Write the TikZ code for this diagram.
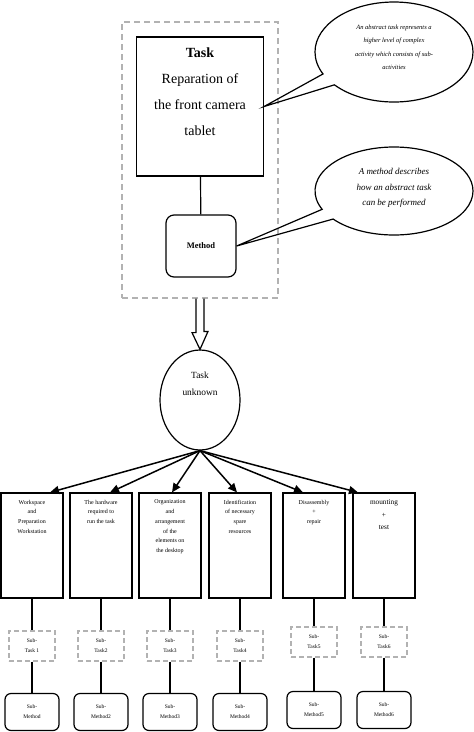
\documentclass[tikz,border=0pt]{standalone}
\usepackage{fontspec}
\setmainfont{Liberation Serif}
\usetikzlibrary{arrows.meta,shapes.geometric,shapes.callouts}
\begin{document}
\begin{tikzpicture}[x=1pt,y=-1pt,
    line width=1.2pt,
    box/.style={draw,minimum width=62pt,minimum height=105pt,inner sep=0pt},
    subtask/.style={draw=gray!60,dash pattern=on 5pt off 3pt,minimum width=46pt,minimum height=30pt,
        align=center,inner sep=0pt,font=\fontsize{5.5}{10}\selectfont},
    submethod/.style={draw,rounded corners=6pt,minimum width=54pt,minimum height=37pt,
        align=center,inner sep=0pt,font=\fontsize{5.5}{10}\selectfont},
    bubble/.style={ellipse callout,draw,align=center,inner sep=0pt,minimum width=158pt},
    arr/.style={-{Triangle[length=9pt,width=8pt]},line width=1.5pt}]
\useasboundingbox (0,0) rectangle (474,732);
\node[draw=gray!60,dash pattern=on 6pt off 4pt,minimum width=156pt,minimum height=276pt] (frame) at (200,160) {};
\node[draw,minimum width=127pt,minimum height=139pt,align=center,inner sep=0pt,
    font=\fontsize{14}{26}\selectfont,text depth=30pt] (task) at (200,106.5)
    {\textbf{Task}\\Reparation of\\the front camera\\tablet};
\node[draw,rounded corners=8pt,minimum width=70pt,minimum height=62pt,
    font=\bfseries\fontsize{8.5}{10}\selectfont] (method) at (201,246) {Method};
\draw (task) -- (method);
\node[bubble,minimum height=100pt,font=\itshape\fontsize{6.5}{13.5}\selectfont,text depth=10pt,
    callout absolute pointer={(task.east)}] (note1) at (394,52)
    {An abstract task represents a\\higher level of complex\\activity which consists of sub-\\activities};
\node[bubble,minimum height=88pt,font=\itshape\fontsize{9}{15.5}\selectfont,text depth=8pt,
    callout absolute pointer={(method.east)}] (note2) at (394,191)
    {A method describes\\how an abstract task\\can be performed};
\node[draw,ellipse,minimum width=80pt,minimum height=100pt,inner sep=0pt,align=center,
    font=\fontsize{9.4}{17}\selectfont,text depth=32pt] (unk) at (200,400) {Task\\unknown};
% hollow double arrow
\draw ([xshift=-4pt]frame.south) -- ++(0,34) -- ++(-4,0) -- (unk.north) -- ++(8,-18) -- ++(-4,0)
    -- ([xshift=4pt]frame.south);
\foreach \x/\dx/\ys/\ym/\fs/\ls/\txt [count=\i] in {
    32/18/646/712/6/9.7/{Workspace\\and\\Preparation\\Workstation},
    101/9/646/712/6/9.7/{The hardware\\required to\\run the task},
    170/2/646/712/6/9.7/{Organization\\and\\arrangement\\of the\\elements on\\the desktop},
    240/-3/646/712/6/9.7/{Identification\\of necessary\\spare\\resources},
    314/-11/642/710/6/9.7/{Disassembly\\+\\repair},
    384/-26/642/710/7.3/12.5/{mounting\\+\\test}} {
    \node[box] (b\i) at (\x,545.5) {};
    \node[anchor=north,align=center,inner sep=0pt,font=\fontsize{\fs}{\ls}\selectfont]
        (t\i) at ([yshift=-7pt]b\i.north) {\txt};
    \node[subtask] (s\i) at (\x,\ys) {Sub-\\\ifnum\i=1 Task 1\else Task\i\fi};
    \node[submethod] (m\i) at (\x,\ym) {Sub-\\\ifnum\i=1 Method\else Method\i\fi};
    \draw[arr] (unk.south) -- ([xshift=\dx pt]b\i.north);
    \draw (b\i) -- (s\i) -- (m\i);
}
\end{tikzpicture}
\end{document}
